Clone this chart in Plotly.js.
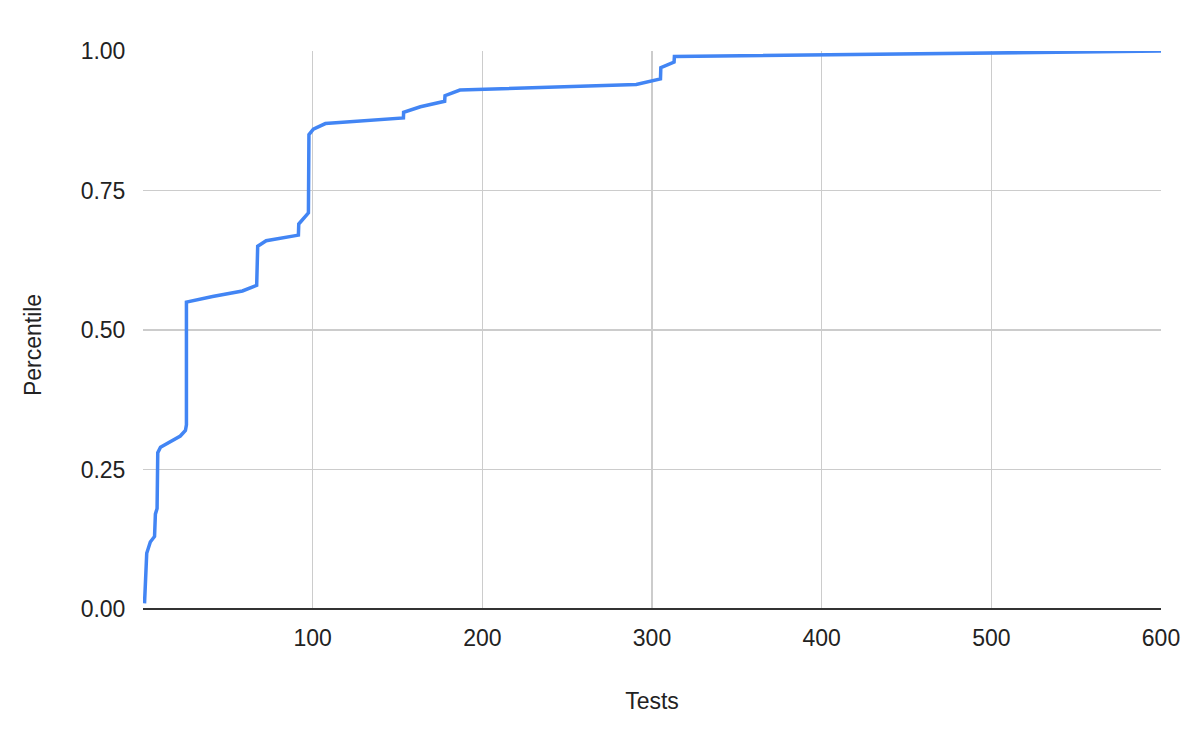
<!DOCTYPE html>
<html>
<head>
<meta charset="utf-8">
<script src="https://cdn.plot.ly/plotly-3.0.1.min.js"></script>
<style>html,body{margin:0;padding:0;background:#fff;}#chart{width:1200px;height:734px;}</style>
</head>
<body>
<div id="chart"></div>
<script>
const tests = [0.9, 1.3, 1.6, 2.2, 4.3, 6.8, 7.3, 8.3, 8.7, 10.3, 22, 25, 25.6, 25.6, 41, 58.6, 67, 67.6, 72.6, 91.6, 91.8, 94.5, 97.5, 97.8, 100.4, 107.5, 153.5, 153.6, 163.5, 177.8, 178, 186.8, 290.7, 305, 305.2, 313, 313.2, 600];
const percentile = [0.01, 0.035, 0.06, 0.10, 0.12, 0.13, 0.17, 0.18, 0.28, 0.29, 0.31, 0.32, 0.33, 0.55, 0.56, 0.57, 0.58, 0.65, 0.66, 0.67, 0.69, 0.70, 0.71, 0.85, 0.86, 0.87, 0.88, 0.89, 0.90, 0.91, 0.92, 0.93, 0.94, 0.95, 0.97, 0.98, 0.99, 1.00];
const xTicks = [100, 200, 300, 400, 500, 600];
const yTicks = [0, 0.25, 0.5, 0.75, 1];
const yTickLabels = ["0.00", "0.25", "0.50", "0.75", "1.00"];
const xTitle = "Tests";
const yTitle = "Percentile";

const font = {family: "Liberation Sans, Arial, sans-serif", size: 23, color: "#222"};

Plotly.newPlot("chart", [{
  x: tests, y: percentile, type: "scatter", mode: "lines",
  line: {color: "#4285F4", width: 3.5},
  hoverinfo: "skip"
}], {
  width: 1200, height: 734,
  margin: {l: 143, r: 39, t: 51, b: 125},
  paper_bgcolor: "#fff", plot_bgcolor: "#fff",
  showlegend: false,
  font: font,
  xaxis: {
    range: [0, 600], tickvals: xTicks, ticktext: xTicks.map(String),
    showgrid: true, gridcolor: "#cccccc", gridwidth: 1.5,
    zeroline: false, showline: false,
    ticks: "outside", ticklen: 8, tickcolor: "rgba(0,0,0,0)",
    tickfont: font,
    title: {text: xTitle, font: font, standoff: 43}
  },
  yaxis: {
    range: [0, 1], tickvals: yTicks, ticktext: yTickLabels,
    showgrid: true, gridcolor: "#cccccc", gridwidth: 1.5,
    zeroline: true, zerolinecolor: "#333333", zerolinewidth: 2,
    showline: false,
    ticks: "outside", ticklen: 12, tickcolor: "rgba(0,0,0,0)",
    tickfont: font
  },
  annotations: [{
    text: yTitle, font: font, textangle: -90, showarrow: false,
    xref: "paper", yref: "paper", x: -0.108, y: 0.473,
    xanchor: "center", yanchor: "middle"
  }]
}, {displayModeBar: false, staticPlot: true});
</script>
</body>
</html>
